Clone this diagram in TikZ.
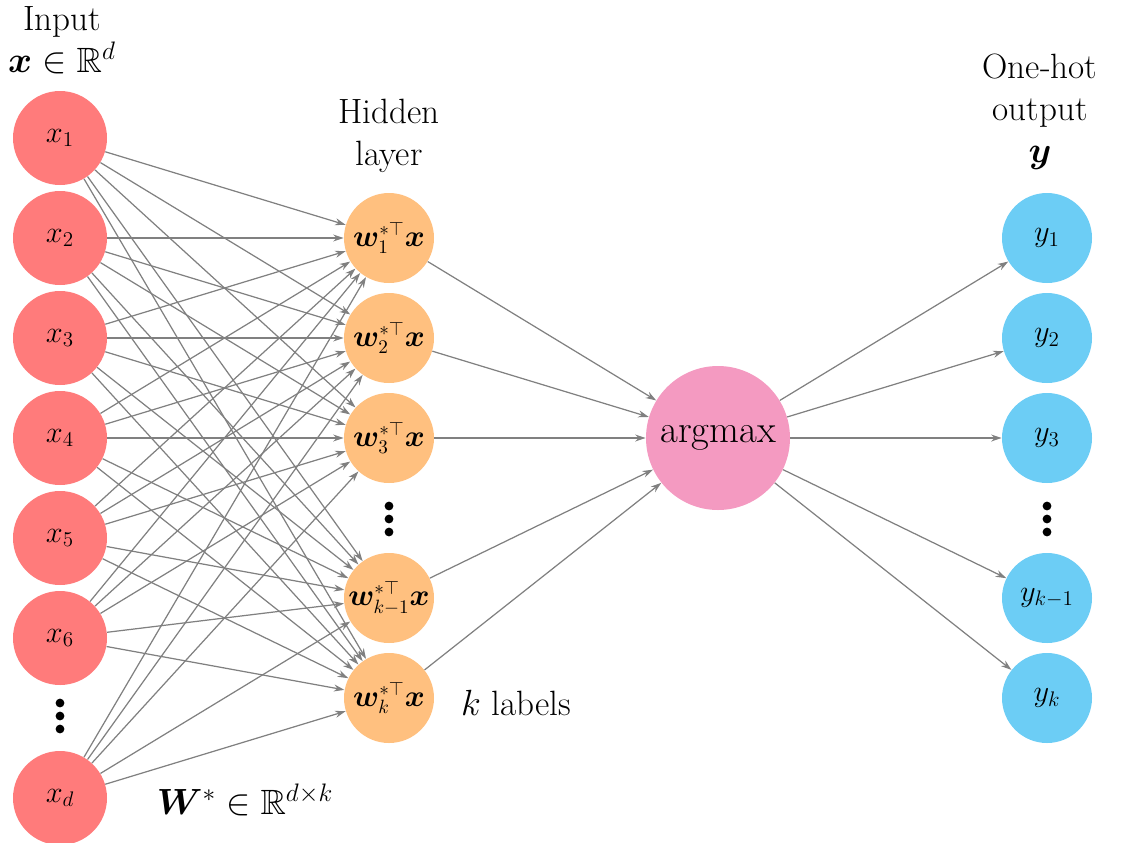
\documentclass[tikz,border=0pt]{standalone}
\usepackage{amsmath,amssymb,bm}
\usetikzlibrary{arrows.meta}
\definecolor{cin}{HTML}{FF7B7B}
\definecolor{chid}{HTML}{FFC07F}
\definecolor{carg}{HTML}{F49AC1}
\definecolor{cout}{HTML}{6CCDF5}
\begin{document}
\begin{tikzpicture}[x=0.02cm,y=-0.02cm,
  inn/.style={circle,fill=cin,minimum size=94*0.02cm,inner sep=0pt,font=\fontsize{18}{20}\selectfont},
  hid/.style={circle,fill=chid,minimum size=90*0.02cm,inner sep=0pt,font=\fontsize{16}{18}\selectfont},
  outn/.style={circle,fill=cout,minimum size=90*0.02cm,inner sep=0pt,font=\fontsize{18}{20}\selectfont},
  lab/.style={align=center,font=\fontsize{20}{24}\selectfont},
  edge/.style={draw=gray,line width=0.7pt,-{Stealth[length=6pt,width=4pt]}},
  dot/.style={circle,fill=black,inner sep=0pt,minimum size=5pt}]
\useasboundingbox (0,0) rectangle (1125,842);
\foreach \i/\y in {1/138,2/238,3/338,4/438,5/538,6/638}
  \node[inn] (x\i) at (60,\y) {$x_{\i}$};
\node[inn] (xd) at (60,798) {$x_d$};
\foreach \n/\x/\y in {dx/60/703,dh/389/506,dy/1047/506}{
  \node[dot] (\n1) at (\x,\y) {};
  \node[dot] (\n2) at (\x,\y+13) {};
  \node[dot] (\n3) at (\x,\y+26) {};}
\node[hid] (h1) at (389,238) {$\bm{w}_1^{*\top}\bm{x}$};
\node[hid] (h2) at (389,338) {$\bm{w}_2^{*\top}\bm{x}$};
\node[hid] (h3) at (389,438) {$\bm{w}_3^{*\top}\bm{x}$};
\node[hid] (h4) at (389,598) {$\bm{w}_{k-1}^{*\top}\bm{x}$};
\node[hid] (h5) at (389,698) {$\bm{w}_k^{*\top}\bm{x}$};
\node[circle,fill=carg,minimum size=144*0.02cm,inner sep=0pt,font=\fontsize{22}{24}\selectfont] (am) at (718,438) {argmax};
\node[outn] (y1) at (1047,238) {$y_1$};
\node[outn] (y2) at (1047,338) {$y_2$};
\node[outn] (y3) at (1047,438) {$y_3$};
\node[outn] (y4) at (1047,598) {$y_{k-1}$};
\node[outn] (y5) at (1047,698) {$y_k$};
\node[lab] (tin) at (62,40) {Input\\$\bm{x}\in\mathbb{R}^d$};
\node[lab] (thid) at (389,136) {Hidden\\layer};
\node[lab] (tout) at (1040,112) {One-hot\\output\\$\bm{y}$};
\node[lab,anchor=west] (tk) at (455,703) {$k$ labels};
\node[lab] (tw) at (245,800) {$\bm{W}^*\in\mathbb{R}^{d\times k}$};
\foreach \a in {x1,x2,x3,x4,x5,x6,xd}
  \foreach \b in {h1,h2,h3,h4,h5}
    \draw[edge] (\a) -- (\b);
\foreach \b in {h1,h2,h3,h4,h5} \draw[edge] (\b) -- (am);
\foreach \b in {y1,y2,y3,y4,y5} \draw[edge] (am) -- (\b);
\end{tikzpicture}
\end{document}
